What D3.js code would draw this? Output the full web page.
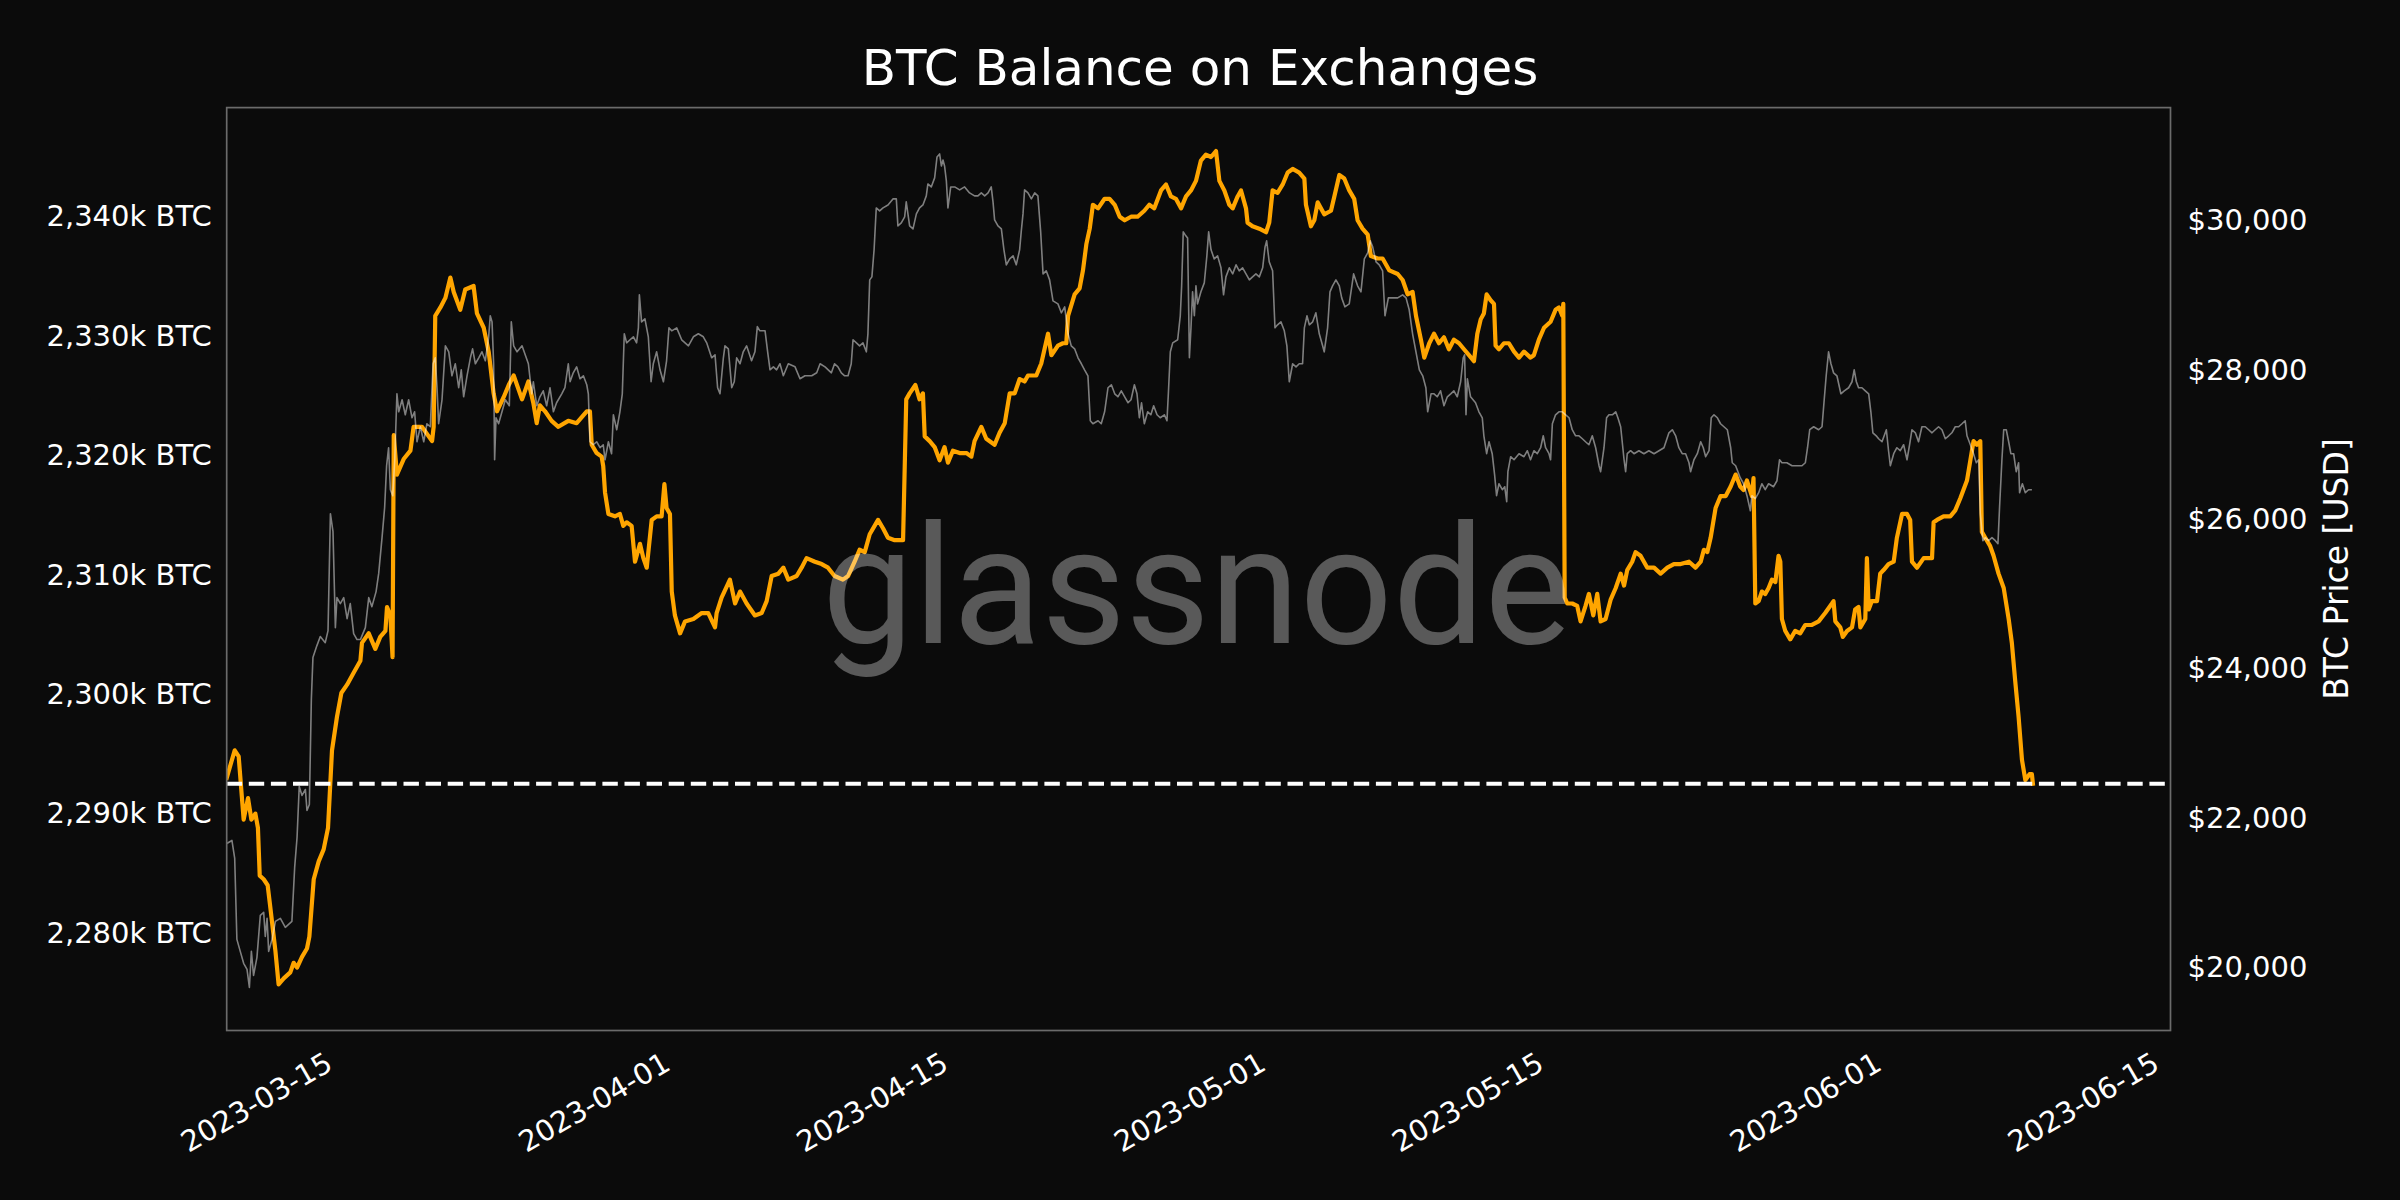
<!DOCTYPE html>
<html><head><meta charset="utf-8">
<script src="https://cdn.jsdelivr.net/npm/d3@7"></script>
<style>html,body{margin:0;padding:0;background:#0b0b0b;} svg{display:block}</style>
</head><body><svg id="chart" width="2400" height="1200"></svg>
<script>
// ---------------- data ----------------
const title = "BTC Balance on Exchanges";
const rightAxisLabel = "BTC Price [USD]";
const watermarkText = "glassnode";
const baseDateUtc = Date.UTC(2023, 2, 15);          // day 0 = 2023-03-15 00:00 UTC
const xDomainDays = [-5.353, 92.54];
const xTickDates = ["2023-03-15","2023-04-01","2023-04-15","2023-05-01","2023-05-15","2023-06-01","2023-06-15"];
const balanceTicks = [2280, 2290, 2300, 2310, 2320, 2330, 2340];   // k BTC
const priceTicks = [20000, 22000, 24000, 26000, 28000, 30000];     // USD
const balanceDomain = [2271.83, 2349.14];
const priceDomain = [19157, 31511];

// BTC balance on exchanges (k BTC), days after 2023-03-15
const balanceDays = [-5.35,-4.95,-4.75,-4.50,-4.28,-4.11,-3.91,-3.78,-3.69,-3.49,-3.29,-3.16,-2.90,-2.74,-2.48,-2.15,-1.98,-1.81,-1.56,-1.31,-1.19,-0.97,-0.72,-0.47,-0.25,-0.05,0.20,0.42,0.71,1.04,1.38,1.46,1.80,2.13,2.38,2.64,2.72,2.89,3.00,3.06,3.22,3.56,3.90,4.06,4.48,4.99,5.07,5.15,5.41,5.66,5.91,6.08,6.41,6.66,7.08,7.25,7.59,7.84,8.09,8.26,8.60,8.85,9.10,9.52,
9.84,10.09,10.26,10.42,10.68,11.01,11.35,11.85,12.27,12.78,12.94,13.03,13.28,13.53,13.61,13.70,13.87,14.20,14.45,14.62,14.79,15.04,15.21,15.46,15.63,15.80,16.05,16.30,16.55,16.69,16.80,16.97,17.06,17.22,17.48,17.73,18.15,18.57,18.90,19.24,19.32,19.57,19.99,20.25,20.50,20.83,21.25,21.59,21.84,22.09,22.43,22.68,22.93,23.35,23.60,23.85,24.27,24.61,
24.93,25.26,25.68,25.94,26.27,26.52,26.78,27.03,27.45,27.70,27.95,28.29,28.71,28.87,29.04,29.33,29.54,29.71,29.80,30.05,30.30,30.55,30.80,30.97,31.22,31.56,31.90,32.15,32.31,32.65,32.90,33.32,33.57,33.83,34.08,34.33,34.58,34.83,35.00,35.42,35.67,36.01,36.18,36.51,36.76,36.93,37.02,37.35,37.60,37.77,37.94,38.11,38.27,38.53,38.86,39.11,39.37,39.62,39.87,
40.19,40.52,40.86,41.11,41.36,41.70,41.95,42.20,42.45,42.71,42.96,43.21,43.46,43.71,43.96,44.22,44.47,44.64,44.89,45.14,45.31,45.56,45.73,45.98,46.06,46.31,46.65,46.99,47.15,47.32,47.57,47.83,48.08,48.33,48.66,48.92,49.00,49.25,49.42,49.59,49.92,50.26,50.43,50.68,50.93,51.18,51.43,51.60,51.85,52.11,52.27,52.61,52.86,53.20,53.62,53.87,54.12,54.37,54.54,54.79,54.96,55.21,
55.45,55.70,55.95,56.20,56.45,56.71,56.96,57.21,57.46,57.63,57.80,57.96,58.10,58.30,58.47,58.55,58.72,58.97,59.22,59.48,59.73,59.98,60.31,60.48,60.73,60.99,61.32,61.57,61.74,61.91,61.96,62.03,62.16,62.41,62.66,62.83,63.08,63.25,63.47,63.67,63.84,64.09,64.34,64.60,64.85,65.02,65.18,65.43,65.60,65.85,66.19,66.53,66.86,67.20,67.53,67.87,68.29,68.62,68.88,69.04,69.21,69.38,69.63,69.88,70.14,70.39,70.64,
70.87,71.04,71.21,71.46,71.54,71.63,71.80,71.96,72.13,72.30,72.47,72.64,72.80,72.89,72.97,73.14,73.39,73.64,73.89,74.15,74.48,74.82,75.15,75.49,75.57,75.66,75.91,76.04,76.25,76.50,76.66,76.83,76.92,77.17,77.25,77.34,77.50,77.76,77.92,78.09,78.34,78.60,78.76,79.02,79.27,79.43,79.52,79.77,80.11,80.53,80.61,80.78,81.11,81.45,81.70,81.95,82.29,82.46,82.62,82.79,82.96,83.04,83.21,83.46,83.63,83.88,84.14,84.39,84.55,84.72,84.89,85.06,85.23,85.44,85.56,85.61];
const balanceK = [2293.0,2295.3,2294.8,2289.5,2291.3,2289.5,2290.0,2288.8,2284.8,2284.5,2284.0,2282.2,2278.5,2275.7,2276.2,2276.7,2277.5,2277.1,2278.0,2278.7,2279.7,2284.5,2286.0,2287.0,2288.8,2295.3,2298.1,2300.1,2300.8,2301.8,2302.8,2304.3,2305.1,2303.8,2304.8,2305.3,2307.3,2306.6,2303.1,2321.7,2318.4,2319.7,2320.4,2322.4,2322.4,2321.2,2322.4,2331.7,2332.4,2333.2,2334.9,2333.7,2332.2,2333.9,2334.2,2331.9,2330.7,2328.7,2325.2,2323.7,2324.9,2325.9,2326.7,2324.7,
2326.2,2324.4,2322.7,2324.2,2323.7,2322.9,2322.4,2322.9,2322.7,2323.7,2323.7,2320.9,2320.2,2319.9,2319.1,2316.9,2315.1,2314.9,2315.1,2314.1,2314.4,2314.1,2311.1,2312.6,2311.4,2310.6,2314.6,2314.9,2314.9,2317.6,2315.6,2315.1,2308.6,2306.6,2305.1,2306.1,2306.3,2306.8,2306.8,2305.6,2306.8,2308.1,2309.6,2307.6,2308.6,2307.6,2306.6,2306.8,2307.8,2309.9,2310.1,2310.6,2309.6,2309.9,2310.6,2311.4,2311.1,2310.9,
2310.6,2309.9,2309.6,2309.9,2311.1,2312.1,2311.9,2313.4,2314.6,2313.9,2313.1,2312.9,2312.9,2324.7,2325.2,2325.9,2324.7,2325.2,2321.6,2321.2,2320.7,2319.6,2320.7,2319.4,2320.4,2320.2,2320.2,2319.9,2321.2,2322.4,2321.4,2320.9,2321.9,2322.7,2325.2,2325.2,2326.4,2326.2,2326.7,2326.7,2327.7,2330.2,2328.4,2329.2,2329.4,2329.4,2331.7,2333.5,2334.0,2335.5,2337.7,2339.0,2341.0,2340.7,2341.5,2341.5,2341.0,2340.0,2339.7,
2340.0,2340.0,2340.5,2341.0,2340.7,2342.2,2342.7,2341.7,2341.5,2340.7,2341.7,2342.2,2343.0,2344.7,2345.2,2345.0,2345.5,2343.0,2342.2,2341.0,2340.7,2341.7,2342.2,2340.7,2339.5,2339.2,2339.0,2338.7,2339.5,2342.2,2342.0,2342.7,2343.7,2344.0,2343.7,2343.2,2341.0,2339.2,2339.7,2341.2,2340.2,2340.5,2341.7,2343.5,2343.2,2342.2,2341.5,2339.7,2339.0,2338.5,2336.7,2336.5,2336.5,2335.5,2335.2,2334.7,2333.5,2333.7,2331.7,2329.7,2328.2,2329.4,
2330.2,2329.4,2329.9,2328.9,2329.7,2329.4,2328.9,2328.4,2327.9,2330.2,2331.4,2331.9,2333.5,2333.0,2332.7,2329.2,2328.9,2329.4,2329.4,2328.7,2328.2,2328.7,2328.2,2328.4,2329.7,2330.7,2331.2,2332.2,2332.4,2331.7,2332.7,2308.1,2307.6,2307.6,2307.4,2306.1,2307.4,2308.4,2306.6,2308.4,2306.1,2306.3,2307.9,2308.9,2310.1,2309.1,2310.4,2311.1,2311.9,2311.6,2310.6,2310.6,2310.1,2310.6,2310.9,2310.9,2311.1,2310.6,2311.1,2312.1,2311.9,2313.1,2315.6,2316.6,2316.6,2317.4,2318.4,
2317.4,2317.1,2317.9,2316.6,2318.1,2307.6,2307.8,2308.6,2308.4,2308.9,2309.6,2309.4,2311.6,2311.1,2306.3,2305.3,2304.6,2305.3,2305.1,2305.8,2305.8,2306.1,2306.8,2307.6,2307.8,2306.1,2305.6,2304.8,2305.3,2305.6,2307.1,2307.3,2305.6,2306.3,2311.4,2307.1,2307.8,2307.8,2310.1,2310.4,2310.9,2311.1,2313.1,2315.1,2315.1,2314.6,2311.1,2310.6,2311.4,2311.4,2314.4,2314.6,2314.9,2314.9,2315.4,2316.4,2317.9,2319.6,2321.2,2320.9,2321.2,2313.6,2313.1,2312.4,2311.6,2310.1,2308.9,2306.3,2304.3,2301.1,2298.1,2294.5,2292.8,2293.3,2293.3,2292.5];

// BTC price (USD), days after 2023-03-15
const priceDays = [-5.35,-5.09,-4.95,-4.84,-4.67,-4.50,-4.33,-4.21,-4.11,-4.00,-3.83,-3.66,-3.49,-3.41,-3.32,-3.24,-3.07,-2.90,-2.65,-2.40,-2.07,-1.93,-1.81,-1.70,-1.56,-1.39,-1.31,-1.19,-1.09,-1.01,-0.81,-0.64,-0.39,-0.25,-0.13,0.00,0.12,0.20,0.37,0.54,0.71,0.87,1.04,1.21,1.38,1.63,1.80,1.96,2.17,2.30,2.47,2.60,2.70,2.80,2.89,3.01,3.11,3.22,3.31,3.48,3.64,3.81,3.98,4.11,4.23,4.40,4.57,4.73,4.90,5.04,5.15,5.24,5.32,5.49,5.66,5.83,5.99,6.16,6.33,6.46,6.58,6.75,6.92,7.03,7.17,7.34,7.50,7.67,7.84,7.92,8.01,8.09,8.14,8.21,8.34,8.51,8.68,8.88,8.98,9.10,9.27,9.52,
9.84,10.01,10.09,10.26,10.42,10.59,10.76,10.93,11.10,11.26,11.52,11.68,11.85,11.94,12.10,12.27,12.44,12.61,12.78,12.86,12.94,13.11,13.28,13.45,13.61,13.70,13.87,14.03,14.12,14.29,14.45,14.57,14.67,14.79,14.96,15.13,15.29,15.38,15.43,15.54,15.71,15.88,16.02,16.13,16.30,16.47,16.64,16.80,16.92,17.06,17.31,17.56,17.90,18.15,18.40,18.65,18.82,19.07,19.24,19.37,19.49,19.66,19.74,19.91,20.08,20.21,20.33,20.50,20.66,20.83,21.08,21.25,21.37,21.50,21.76,21.89,22.01,22.18,22.34,22.51,22.68,22.93,23.27,23.52,23.77,24.11,24.36,24.53,24.78,
25.10,25.26,25.43,25.60,25.77,25.94,26.10,26.19,26.36,26.52,26.69,26.86,26.94,27.03,27.14,27.25,27.36,27.53,27.70,27.95,28.20,28.37,28.45,28.62,28.79,28.87,29.04,29.21,29.38,29.54,29.71,29.88,29.96,30.13,30.30,30.42,30.55,30.64,30.72,30.80,30.89,30.97,31.11,31.31,31.56,31.81,32.06,32.31,32.48,32.65,32.82,32.99,33.15,33.24,33.32,33.49,33.66,33.79,33.91,34.08,34.25,34.41,34.58,34.66,34.75,34.83,35.00,35.17,35.34,35.50,35.64,35.76,35.92,36.09,36.26,36.51,36.68,36.85,37.02,37.18,37.35,37.52,37.69,37.85,38.02,38.14,38.27,38.53,38.69,38.86,39.03,39.20,39.37,39.53,39.70,39.87,40.04,
40.19,40.36,40.49,40.61,40.72,40.86,41.03,41.19,41.33,41.50,41.66,41.87,42.00,42.07,42.17,42.29,42.54,42.67,42.74,42.82,42.92,43.04,43.13,43.21,43.29,43.38,43.46,43.54,43.71,43.88,44.01,44.10,44.22,44.38,44.55,44.72,44.85,44.97,45.14,45.31,45.48,45.64,45.81,45.98,46.15,46.31,46.48,46.65,46.82,46.94,47.02,47.15,47.32,47.44,47.57,47.74,47.91,48.04,48.16,48.33,48.50,48.66,48.83,48.92,49.05,49.17,49.34,49.50,49.67,49.84,49.92,50.09,50.21,50.34,50.51,50.68,50.80,50.96,51.18,51.40,51.60,51.77,51.94,52.11,52.24,52.36,52.53,52.69,52.86,52.98,53.15,53.37,53.62,53.87,54.04,54.20,54.37,54.54,54.71,54.88,55.04,55.13,55.30,
55.45,55.61,55.78,55.95,56.12,56.29,56.45,56.62,56.79,56.92,56.99,57.06,57.13,57.29,57.54,57.71,57.88,57.96,58.10,58.22,58.38,58.50,58.60,58.72,58.89,59.01,59.11,59.17,59.31,59.48,59.73,59.98,60.15,60.31,60.48,60.65,60.82,60.95,61.07,61.24,61.32,61.41,61.57,61.74,61.91,62.08,62.25,62.41,62.58,62.75,62.92,63.08,63.25,63.42,63.59,63.76,63.84,64.01,64.14,64.26,64.43,64.60,64.71,64.85,65.02,65.10,65.18,65.35,65.52,65.77,66.02,66.27,66.53,66.78,67.03,67.28,67.45,67.62,67.78,67.95,68.12,68.29,68.37,68.54,68.71,68.88,69.01,69.13,69.30,69.41,69.55,69.72,69.88,70.05,70.22,70.39,70.47,70.64,
70.87,71.04,71.21,71.38,71.46,71.63,71.80,71.96,72.13,72.30,72.55,72.72,72.85,72.97,73.22,73.48,73.73,73.98,74.15,74.26,74.37,74.57,74.82,74.99,75.10,75.20,75.32,75.44,75.57,75.74,75.94,76.11,76.33,76.50,76.61,76.72,76.83,77.00,77.17,77.34,77.45,77.55,77.72,77.84,78.01,78.23,78.34,78.43,78.60,78.76,78.93,79.10,79.27,79.40,79.52,79.69,79.85,80.02,80.19,80.36,80.53,80.69,80.86,81.03,81.20,81.37,81.53,81.70,81.87,82.04,82.20,82.29,82.46,82.62,82.76,82.88,82.96,83.09,83.21,83.38,83.55,83.72,83.85,83.93,84.05,84.14,84.27,84.39,84.50,84.64,84.77,84.89,84.94,85.08,85.23,85.39,85.56];
const priceUsd = [21661,21701,21460,20377,20216,20056,19975,19734,20216,19895,20136,20698,20738,20417,20658,20216,20377,20617,20658,20537,20617,21340,21741,22423,22303,22383,22102,22182,23587,24149,24309,24430,24349,24510,26075,25834,24550,24951,24871,24951,24670,24871,24470,24390,24390,24550,24951,24831,25032,25272,25754,26155,26717,26958,26396,26316,26797,27680,27439,27600,27399,27600,27359,27439,27038,27239,27038,27279,27239,28082,28162,27761,27279,27600,28322,28242,27921,28082,27761,28001,27640,27921,28162,28282,28082,28162,28242,28122,28443,28724,28643,28082,26797,27359,27279,27439,27600,27520,28643,28322,28242,28322,
28082,27680,27841,27520,27640,27720,27520,27761,27439,27560,27680,27761,28082,27841,27961,28041,27881,27921,27801,27680,27038,26998,27038,26958,26998,26797,27038,26878,27399,27199,27439,27680,28483,28362,28403,28443,28362,28563,29005,28643,28684,28443,27841,28082,28242,28001,27841,28122,28563,28523,28563,28403,28322,28443,28483,28443,28362,28162,28202,27761,27680,28162,28322,28282,27761,27841,28162,28082,28242,28322,28122,28242,28579,28523,28523,28242,28001,28041,28001,28082,27921,28082,28041,27881,27921,27921,27961,28082,28041,
27961,28082,28041,27961,27921,27921,28082,28403,28362,28322,28362,28242,28483,29205,29245,29607,30168,30128,30168,30208,30289,30289,29928,29968,30048,30249,29928,29887,30088,30168,30208,30329,30489,30449,30570,30851,30891,30730,30810,30730,30530,30168,30449,30449,30409,30449,30369,30329,30329,30369,30329,30369,30449,30249,30008,29928,29887,29607,29406,29486,29526,29406,29607,29847,30088,30409,30369,30289,30369,30329,29847,29285,29326,29205,28924,28884,28764,28844,28483,28322,28282,28162,28082,28001,27921,27319,27279,27319,27279,27439,27761,27801,27680,27640,27720,27640,27560,
27600,27801,27680,27359,27560,27279,27439,27399,27520,27399,27359,27399,27319,27680,28242,28362,28403,28724,29125,29847,29807,29767,28162,28563,29045,28724,29125,28884,29045,29165,29526,29847,29607,29486,29526,29366,29005,29245,29366,29285,29406,29326,29366,29285,29205,29245,29285,29245,29366,29647,29727,29446,29326,28563,28603,28643,28523,28322,27841,28082,28041,28082,28082,28563,28724,28603,28643,28764,28483,28322,28242,28563,29045,29125,29205,29125,28964,28844,28884,29285,29125,29045,29486,29566,29727,29647,29446,29406,29326,28724,28964,28964,28964,29005,28964,28804,28483,28242,28001,27921,27761,27439,27680,
27680,27640,27720,27520,27640,27680,27720,27640,27841,28162,28202,27399,27881,27640,27560,27439,27359,27118,26878,27038,26878,26597,26316,26476,26396,26436,26236,26637,26838,26797,26878,26838,26918,26797,26918,26878,26958,27118,26958,26878,26797,27279,27399,27439,27439,27399,27359,27199,27118,27118,27078,27038,26998,27118,26958,26717,26637,26958,27359,27399,27399,27439,27359,27239,26797,26637,26878,26918,26878,26918,26878,26918,26878,26918,26958,27158,27199,27118,26958,26878,26878,26757,26637,26797,26878,27038,26958,26838,26918,27359,27399,27359,27279,27239,27199,26958,26757,26717,
26557,26476,26316,26115,26316,26276,26356,26476,26396,26476,26436,26516,26797,26757,26757,26717,26717,26717,26757,26958,27199,27239,27199,27239,27600,27921,28242,28082,27961,27921,27680,27720,27761,27841,28001,27841,27761,27761,27720,27680,27439,27158,27118,27078,27038,27199,26918,26717,26878,26958,26918,26998,26797,26998,27199,27158,27038,27239,27239,27199,27158,27199,27239,27199,27078,27118,27158,27239,27239,27279,27319,27118,26998,26878,26757,26797,26075,25714,25754,25714,25754,25714,25674,26155,26797,27199,27199,27038,26878,26878,26637,26757,26356,26476,26356,26396,26396];

// ---------------- drawing ----------------
const W = 2400, H = 1200;
const plot = {left: 226.7, right: 2170.5, top: 107.6, bottom: 1030.5};
const FONT = "'DejaVu Sans', sans-serif";
const svg = d3.select("#chart");
const dayToDate = d => new Date(baseDateUtc + d * 864e5);

svg.append("rect").attr("width", W).attr("height", H).attr("fill", "#0b0b0b");

const x = d3.scaleUtc().domain(xDomainDays.map(dayToDate)).range([plot.left, plot.right]);
const yL = d3.scaleLinear().domain(balanceDomain).range([plot.bottom, plot.top]);
const yR = d3.scaleLinear().domain(priceDomain).range([plot.bottom, plot.top]);

const balanceData = balanceDays.map((d, i) => ({t: dayToDate(d), v: balanceK[i]}));
const priceData = priceDays.map((d, i) => ({t: dayToDate(d), v: priceUsd[i]}));

svg.append("clipPath").attr("id", "plotclip").append("rect")
  .attr("x", plot.left).attr("y", plot.top)
  .attr("width", plot.right - plot.left).attr("height", plot.bottom - plot.top);

const g = svg.append("g").attr("clip-path", "url(#plotclip)");

// balance line
g.append("path").datum(balanceData)
  .attr("d", d3.line().x(d => x(d.t)).y(d => yL(d.v)))
  .attr("fill", "none").attr("stroke", "#ffa500").attr("stroke-width", 4.2)
  .attr("stroke-linejoin", "round").attr("stroke-linecap", "square");

// dashed line at latest value
const lastVal = balanceK[balanceK.length - 1];
g.append("line")
  .attr("x1", plot.left).attr("x2", plot.right)
  .attr("y1", yL(lastVal)).attr("y2", yL(lastVal))
  .attr("stroke", "#ffffff").attr("stroke-width", 4.2)
  .attr("stroke-dasharray", "15.4,6.7");

// price line
g.append("path").datum(priceData)
  .attr("d", d3.line().x(d => x(d.t)).y(d => yR(d.v)))
  .attr("fill", "none").attr("stroke", "#ffffff").attr("stroke-opacity", 0.48)
  .attr("stroke-width", 1.6).attr("stroke-linejoin", "round");

// watermark
svg.append("text")
  .attr("x", 1196.5).attr("y", 642.6)
  .attr("text-anchor", "middle")
  .attr("font-family", "Roboto, 'DejaVu Sans', sans-serif")
  .attr("font-weight", 400)
  .attr("font-size", 165)
  .attr("fill", "#ffffff").attr("fill-opacity", 0.32)
  .attr("textLength", 749).attr("lengthAdjust", "spacingAndGlyphs")
  .text(watermarkText);

// frame
svg.append("rect")
  .attr("x", plot.left).attr("y", plot.top)
  .attr("width", plot.right - plot.left).attr("height", plot.bottom - plot.top)
  .attr("fill", "none").attr("stroke", "#6b6b6b").attr("stroke-width", 1.7);

// axes
function styleAxis(sel) {
  sel.select(".domain").remove();
  sel.selectAll("line").remove();
  sel.selectAll("text").attr("fill", "#ffffff").attr("font-size", 29).attr("font-family", FONT);
}

const fmtK = d3.format(",");
svg.append("g").attr("transform", `translate(${plot.left},0)`)
  .call(d3.axisLeft(yL).tickValues(balanceTicks).tickSize(0).tickPadding(15)
    .tickFormat(d => fmtK(d) + "k BTC"))
  .call(styleAxis);

const fmtUsd = d3.format("$,");
svg.append("g").attr("transform", `translate(${plot.right},0)`)
  .call(d3.axisRight(yR).tickValues(priceTicks).tickSize(0).tickPadding(17)
    .tickFormat(d => fmtUsd(d)))
  .call(styleAxis);

const xAxisG = svg.append("g").attr("transform", `translate(0,${plot.bottom})`)
  .call(d3.axisBottom(x).tickValues(xTickDates.map(s => new Date(s + "T00:00:00Z")))
    .tickSize(0).tickFormat(d3.utcFormat("%Y-%m-%d")))
  .call(styleAxis);
xAxisG.selectAll("text")
  .attr("x", 0).attr("y", 0).attr("dy", "0.35em")
  .attr("text-anchor", "end")
  .attr("transform", "translate(-4,29.5) rotate(-30)");

// title
svg.append("text")
  .attr("x", 1200).attr("y", 85)
  .attr("text-anchor", "middle").attr("fill", "#ffffff")
  .attr("font-family", FONT).attr("font-size", 50)
  .text(title);

// right axis label
svg.append("text")
  .attr("transform", "translate(2336,569) rotate(-90)")
  .attr("text-anchor", "middle").attr("dominant-baseline", "central")
  .attr("fill", "#ffffff").attr("font-family", FONT).attr("font-size", 33)
  .text(rightAxisLabel);
</script>
</body></html>
